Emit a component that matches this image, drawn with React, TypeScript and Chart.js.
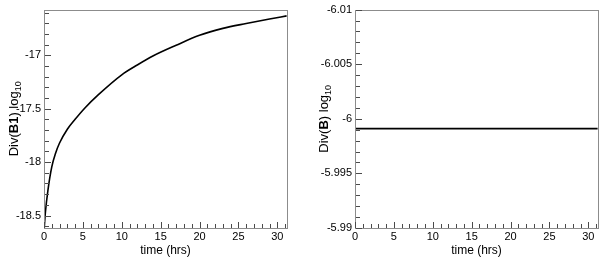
import React, { useEffect, useRef } from "react";
import { Chart, registerables } from "chart.js";

Chart.register(...registerables);

// ---- data ----
const timeB1 = [0, 0.18, 0.5, 1.0, 1.5, 2.0, 3.0, 4.0, 5.2, 7.0, 10, 12, 14, 17, 20, 23, 26, 29, 31.2];
const divB1 = [-18.65, -18.469, -18.266, -18.044, -17.914, -17.821, -17.692, -17.599, -17.497, -17.368, -17.182, -17.09, -17.006, -16.905, -16.812, -16.747, -16.701, -16.659, -16.63];
const timeB = [0, 31.2];
const divB = [-5.9991, -5.9991];

const xTicks = [0, 5, 10, 15, 20, 25, 30];
const xTickLabels = ["0", "5", "10", "15", "20", "25", "30"];
const yTicksB1 = [-18.5, -18, -17.5, -17];
const yTickLabelsB1 = ["-18.5", "-18", "-17.5", "-17"];
const yTicksB = [-6.01, -6.005, -6, -5.995, -5.99];
const yTickLabelsB = ["-6.01", "-6.005", "-6", "-5.995", "-5.99"];

const FONT = "'Liberation Sans', Arial, Helvetica, sans-serif";
const FRAME = "#8c8c8c";
const TICK = "#4a4a4a";

type TitlePart = { text: string; bold?: boolean; sub?: boolean };

interface PanelProps {
  times: number[];
  values: number[];
  yMin: number;
  yMax: number;
  reverse: boolean;
  yTicks: number[];
  yLabels: string[];
  yMinorStep: number;
  yAxisWidth: number;
  rightPad: number;
  titleX: number;
  titleParts: TitlePart[];
  left: number;
}

function Panel(p: PanelProps) {
  const ref = useRef<HTMLCanvasElement | null>(null);
  useEffect(() => {
    if (!ref.current) return;
    const decor = {
      id: "decor",
      afterDraw(chart: any) {
        const ctx = chart.ctx as CanvasRenderingContext2D;
        const a = chart.chartArea;
        const xs = chart.scales.x;
        const ys = chart.scales.y;
        ctx.save();
        const L = Math.round(a.left);
        const T = Math.round(a.top);
        const R = Math.round(a.right);
        const B = Math.round(a.bottom);
        ctx.fillStyle = FRAME;
        ctx.fillRect(L, T, R - L + 1, 1);
        ctx.fillRect(L, B, R - L + 1, 1);
        ctx.fillRect(L, T, 1, B - T + 1);
        ctx.fillRect(R, T, 1, B - T + 1);
        ctx.fillStyle = TICK;
        for (let v = 0; v <= 31; v += 1) {
          const px = Math.round(xs.getPixelForValue(v));
          const len = v % 5 === 0 ? 6 : 4;
          ctx.fillRect(px, B - len, 1, len);
        }
        const n = Math.round((p.yMax - p.yMin) / p.yMinorStep);
        const start = Math.ceil(p.yMin / p.yMinorStep - 1e-6);
        for (let k = start; k <= start + n + 1; k++) {
          const v = k * p.yMinorStep;
          if (v < p.yMin - 1e-9 || v > p.yMax + 1e-9) continue;
          const major = p.yTicks.some((t) => Math.abs(t - v) < p.yMinorStep * 0.01);
          const py = Math.round(ys.getPixelForValue(v));
          ctx.fillRect(L + 1, py, major ? 6 : 4, 1);
        }

        const size = 13;
        const fontOf = (part: TitlePart) =>
          `${part.bold ? "bold " : ""}${part.sub ? 9 : size}px ${FONT}`;
        let total = 0;
        for (const part of p.titleParts) {
          ctx.font = fontOf(part);
          total += ctx.measureText(part.text).width;
        }
        ctx.translate(p.titleX, (a.top + a.bottom) / 2);
        ctx.rotate(-Math.PI / 2);
        ctx.fillStyle = "#000";
        ctx.textBaseline = "alphabetic";
        let x = -total / 2;
        for (const part of p.titleParts) {
          ctx.font = fontOf(part);
          ctx.fillText(part.text, x, part.sub ? size * 0.35 + 3 : size * 0.35);
          x += ctx.measureText(part.text).width;
        }
        ctx.restore();
      },
    };

    const chart = new Chart(ref.current, {
      type: "line",
      data: {
        datasets: [
          {
            data: p.times.map((t, i) => ({ x: t, y: p.values[i] })),
            borderColor: "#000",
            borderWidth: 1.6,
            pointRadius: 0,
            cubicInterpolationMode: "monotone",
            fill: false,
          },
        ],
      },
      options: {
        responsive: false,
        animation: false,
        devicePixelRatio: 1,
        layout: { padding: { top: 7, right: p.rightPad, bottom: 0, left: 0 } },
        plugins: { legend: { display: false }, tooltip: { enabled: false } },
        scales: {
          x: {
            type: "linear",
            min: 0,
            max: 31.25,
            grid: { display: false, drawTicks: false },
            border: { display: false },
            afterBuildTicks: (s: any) => {
              s.ticks = xTicks.map((v) => ({ value: v }));
            },
            afterFit: (s: any) => {
              s.height = 30;
            },
            ticks: {
              padding: 2,
              color: "#000",
              font: { family: FONT, size: 11 },
              maxRotation: 0,
              autoSkip: false,
              callback: (v: any) => {
                const i = xTicks.findIndex((t) => Math.abs(t - Number(v)) < 1e-9);
                return i >= 0 ? xTickLabels[i] : "";
              },
            },
            title: {
              display: true,
              text: "time (hrs)",
              color: "#000",
              font: { family: FONT, size: 12 },
              padding: { top: 0, bottom: 0 },
            },
          },
          y: {
            type: "linear",
            min: p.yMin,
            max: p.yMax,
            reverse: p.reverse,
            grid: { display: false, drawTicks: false },
            border: { display: false },
            afterBuildTicks: (s: any) => {
              s.ticks = p.yTicks.map((v) => ({ value: v }));
            },
            afterFit: (s: any) => {
              s.width = p.yAxisWidth;
            },
            ticks: {
              padding: 3,
              color: "#000",
              font: { family: FONT, size: 11 },
              autoSkip: false,
              callback: (v: any) => {
                const i = p.yTicks.findIndex((t) => Math.abs(t - Number(v)) < 1e-9);
                return i >= 0 ? p.yLabels[i] : "";
              },
            },
          },
        },
      },
      plugins: [decor],
    } as any);
    return () => chart.destroy();
  }, []);
  return (
    <canvas
      ref={ref}
      width={300}
      height={258}
      style={{ position: "absolute", left: p.left, top: 0, width: 300, height: 258 }}
    />
  );
}

export default function App() {
  return (
    <div style={{ position: "absolute", left: 0, top: 0, width: 600, height: 258, background: "#fff" }}>
      <Panel
        left={0}
        times={timeB1}
        values={divB1}
        yMin={-18.617}
        yMax={-16.571}
        reverse={false}
        yTicks={yTicksB1}
        yLabels={yTickLabelsB1}
        yMinorStep={0.1}
        yAxisWidth={44}
        rightPad={13}
        titleX={13}
        titleParts={[
          { text: "Div(" },
          { text: "B1", bold: true },
          { text: ") log" },
          { text: "10", sub: true },
        ]}
      />
      <Panel
        left={300}
        times={timeB}
        values={divB}
        yMin={-6.01}
        yMax={-5.99}
        reverse={true}
        yTicks={yTicksB}
        yLabels={yTickLabelsB}
        yMinorStep={0.001}
        yAxisWidth={55}
        rightPad={2}
        titleX={23}
        titleParts={[
          { text: "Div(" },
          { text: "B", bold: true },
          { text: ") log" },
          { text: "10", sub: true },
        ]}
      />
    </div>
  );
}
